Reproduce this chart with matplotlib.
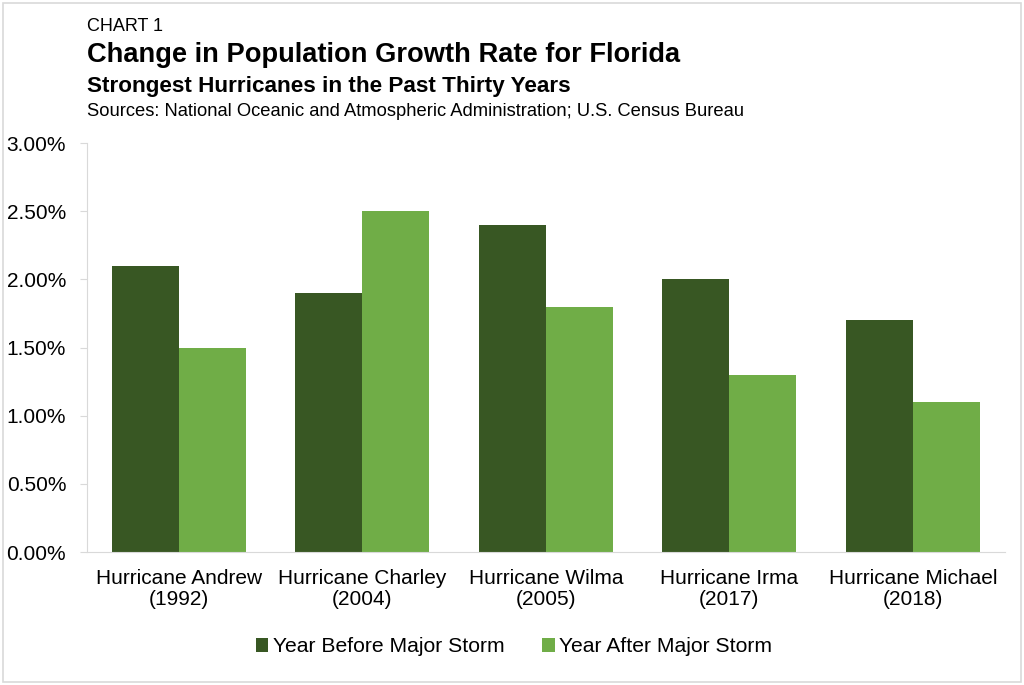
import matplotlib.pyplot as plt
import numpy as np
from matplotlib.patches import Rectangle
from matplotlib.ticker import FuncFormatter

plt.rcParams['font.family'] = ['Liberation Sans', 'DejaVu Sans']

storms = ['Hurricane Andrew\n(1992)', 'Hurricane Charley\n(2004)', 'Hurricane Wilma\n(2005)',
          'Hurricane Irma\n(2017)', 'Hurricane Michael\n(2018)']
year_before = [2.1, 1.9, 2.4, 2.0, 1.7]
year_after = [1.5, 2.5, 1.8, 1.3, 1.1]

dark = '#385723'
light = '#70AD47'

fig = plt.figure(figsize=(10.24, 6.85), dpi=100)
ax = fig.add_axes([0.085, 0.194, 0.896, 0.597])

x = np.arange(len(storms))
w = 0.365
ax.bar(x - w / 2, year_before, w, color=dark, label='Year Before Major Storm')
ax.bar(x + w / 2, year_after, w, color=light, label='Year After Major Storm')

ax.set_xlim(-0.5, len(storms) - 0.5)
ax.set_ylim(0, 3.0)
ax.set_yticks(np.arange(0, 3.01, 0.5))
ax.yaxis.set_major_formatter(FuncFormatter(lambda v, p: f'{v:.2f}%'))
ax.set_xticks(x)
ax.set_xticklabels(storms, fontsize=15, linespacing=1.15)
ax.tick_params(axis='y', labelsize=15, length=5, color='#d9d9d9', pad=10)
ax.tick_params(axis='x', length=0, pad=12)
for s in ['top', 'right']:
    ax.spines[s].set_visible(False)
ax.spines['left'].set_color('#d9d9d9')
ax.spines['bottom'].set_color('#d9d9d9')

ax.legend(loc='center', bbox_to_anchor=(514 / 1024, 1 - 647 / 685), bbox_transform=fig.transFigure,
          ncol=2, frameon=False, fontsize=15.2, handlelength=0.6, handleheight=0.6,
          handletextpad=0.2, columnspacing=1.8)

fig.text(0.085, 0.955, 'CHART 1', fontsize=13, va='baseline')
fig.text(0.085, 0.909, 'Change in Population Growth Rate for Florida', fontsize=19.6,
         fontweight='bold', va='baseline')
fig.text(0.085, 0.866, 'Strongest Hurricanes in the Past Thirty Years', fontsize=16.2,
         fontweight='bold', va='baseline')
fig.text(0.085, 0.831, 'Sources: National Oceanic and Atmospheric Administration; U.S. Census Bureau',
         fontsize=13.2, va='baseline')

fig.patches.append(Rectangle((0.003, 0.005), 0.994, 0.99, transform=fig.transFigure,
                             fill=False, edgecolor='#d9d9d9', linewidth=1.2))

fig.savefig('out.png', dpi=100)
